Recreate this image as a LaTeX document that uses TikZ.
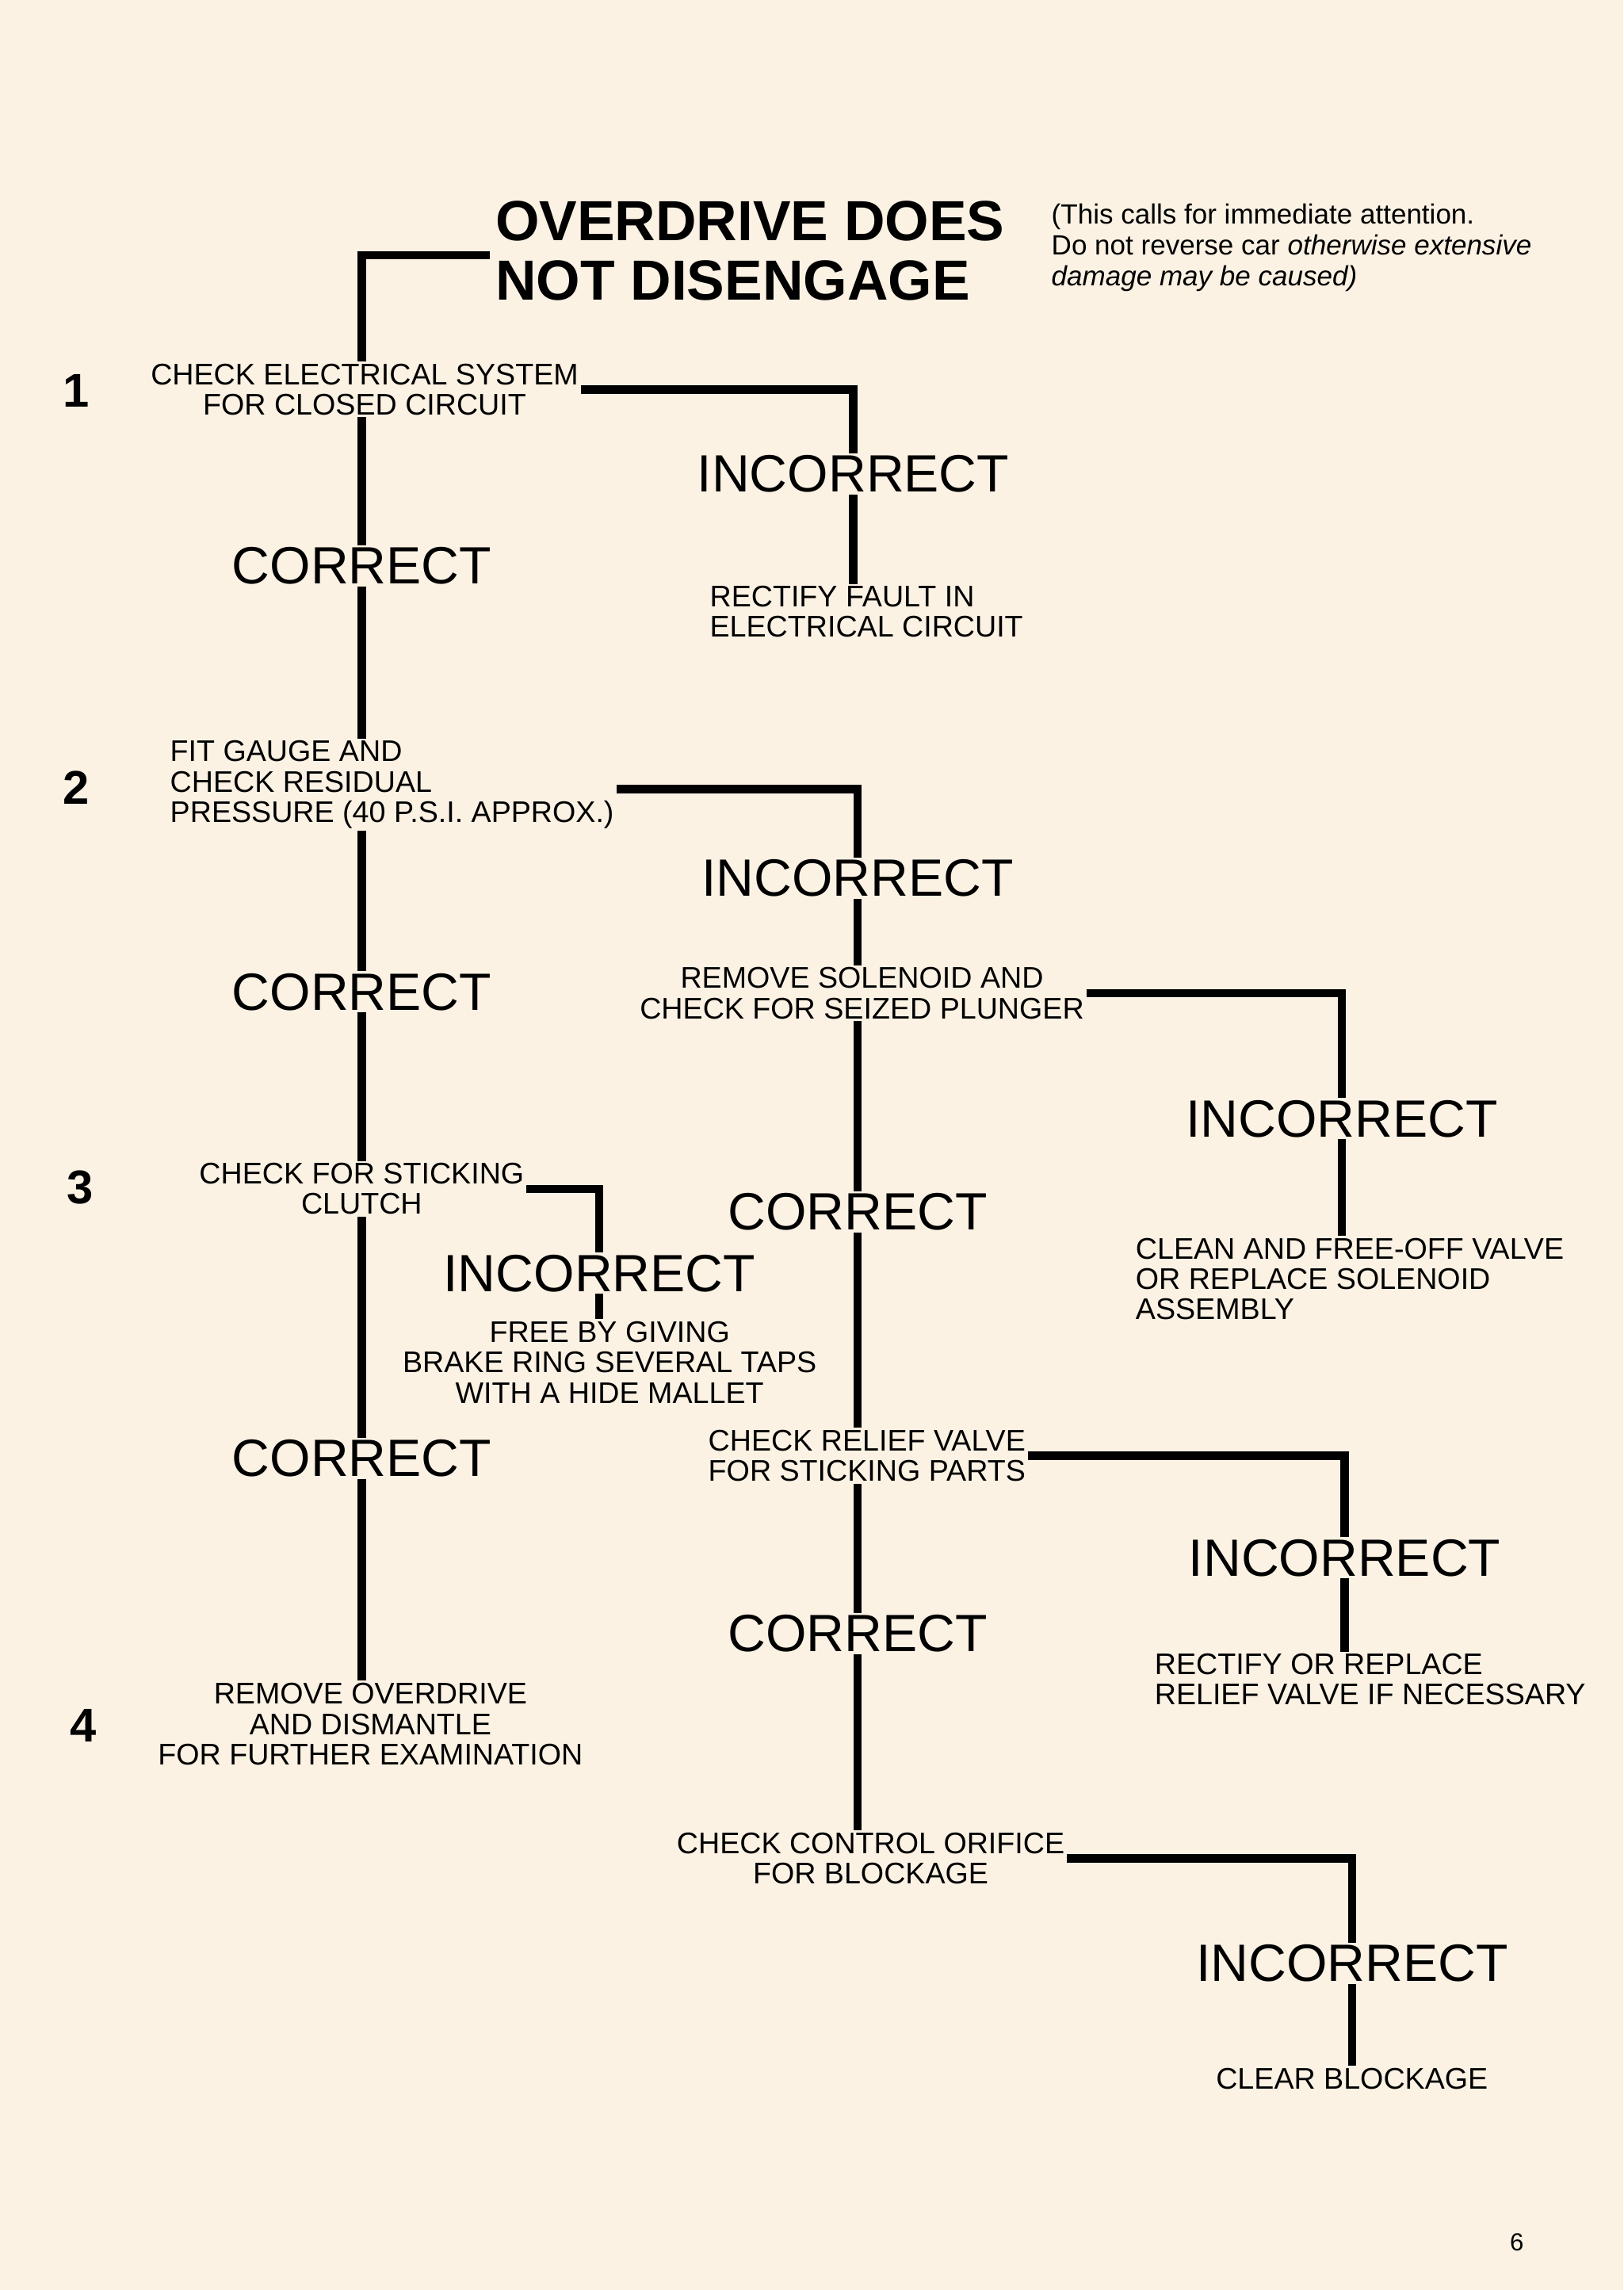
\documentclass[tikz,border=0pt]{standalone}
\usepackage{fontspec}
\setmainfont{Liberation Sans}
\usetikzlibrary{backgrounds}
\definecolor{bg}{HTML}{FBF2E4}
\begin{document}
\begin{tikzpicture}[x=0.709pt,y=-0.709pt,
 txt/.style={fill=bg,inner sep=1pt,font=\fontsize{14.5}{14.8}\selectfont,align=center},
 txl/.style={txt,align=left,anchor=west},
 big/.style={fill=bg,inner sep=1pt,font=\fontsize{25.5}{26}\selectfont},
 num/.style={font=\bfseries\fontsize{23}{24}\selectfont},
 ln/.style={line width=4pt}]
\useasboundingbox (0,0) rectangle (1113,1570);
% title
\node[anchor=west,font=\bfseries\fontsize{27.5}{29}\selectfont,align=left,fill=bg,inner sep=1pt] (title) at (338,172) {OVERDRIVE DOES\\NOT DISENGAGE};
\node[anchor=west,font=\fontsize{13.5}{15}\selectfont,align=left] (note) at (716,170) {(This calls for immediate attention.\\Do not reverse car \textit{otherwise extensive}\\\textit{damage may be caused)}};
\coordinate (t0) at (336,175);
\coordinate (tc) at (248,175);
% left column
\node[txt] (c1) at (250,267) {CHECK ELECTRICAL SYSTEM\\FOR CLOSED CIRCUIT};
\node[big] (ok1) at (248,388) {CORRECT};
\node[txl] (c2) at (115,538) {FIT GAUGE AND\\CHECK RESIDUAL\\PRESSURE (40 P.S.I. APPROX.)};
\node[big] (ok2) at (248,680) {CORRECT};
\node[txt] (c3) at (248,815) {CHECK FOR STICKING\\CLUTCH};
\node[big] (ok3) at (248,1000) {CORRECT};
\node[txt] (c4) at (254,1182) {REMOVE OVERDRIVE\\AND DISMANTLE\\FOR FURTHER EXAMINATION};
% branch 1
\node[big] (i1) at (585,325) {INCORRECT};
\node[txl,anchor=north west] (f1) at (485,400) {RECTIFY FAULT IN\\ELECTRICAL CIRCUIT};
\coordinate (f1t) at (585,408);
% branch 2
\node[big] (i2) at (588,602) {INCORRECT};
\node[txt] (s1) at (591,681) {REMOVE SOLENOID AND\\CHECK FOR SEIZED PLUNGER};
\node[big] (i3) at (920,767) {INCORRECT};
\node[txl,anchor=north west] (f3) at (777,847) {CLEAN AND FREE-OFF VALVE\\OR REPLACE SOLENOID\\ASSEMBLY};
\coordinate (f3t) at (920,850);
\node[big] (ok4) at (588,831) {CORRECT};
\node[txl] (s2) at (484,998) {CHECK RELIEF VALVE\\FOR STICKING PARTS};
\node[big] (i4) at (922,1068) {INCORRECT};
\node[txl,anchor=north west] (f4) at (790,1132) {RECTIFY OR REPLACE\\RELIEF VALVE IF NECESSARY};
\coordinate (f4t) at (922,1138);
\node[big] (ok5) at (588,1120) {CORRECT};
\node[txt] (s3) at (597,1274) {CHECK CONTROL ORIFICE\\FOR BLOCKAGE};
\node[big] (i5) at (927,1346) {INCORRECT};
\node[txt] (f5) at (927,1425) {CLEAR BLOCKAGE};
% branch 3
\node[big] (i6) at (411,873) {INCORRECT};
\node[txt] (f6) at (418,934) {FREE BY GIVING\\BRAKE RING SEVERAL TAPS\\WITH A HIDE MALLET};
% numbers
\node[num] (n1) at (52,268) {1};
\node[num] (n2) at (52,540) {2};
\node[num] (n3) at (55,814) {3};
\node[num] (n4) at (57,1183) {4};
\node[font=\fontsize{12}{13}\selectfont] (pg) at (1040,1537) {6};
\begin{scope}[on background layer]
\fill[bg] (0,0) rectangle (1113,1570);
\draw[ln] (t0) -- (tc) -- (c4.north -| tc);
\draw[ln] (c1.east) -| (f1t);
\coordinate (m0) at (588,541);
\draw[ln] (c2.east |- m0) -- (m0) -- (s3.north -| m0);
\draw[ln] (s1.east) -| (f3t);
\draw[ln] (s2.east) -| (f4t);
\draw[ln] (s3.east) -| (i5.center) -- (f5.north);
\draw[ln] (c3.east) -| (i6.center) -- (f6.north -| i6);
\end{scope}
\end{tikzpicture}
\end{document}
